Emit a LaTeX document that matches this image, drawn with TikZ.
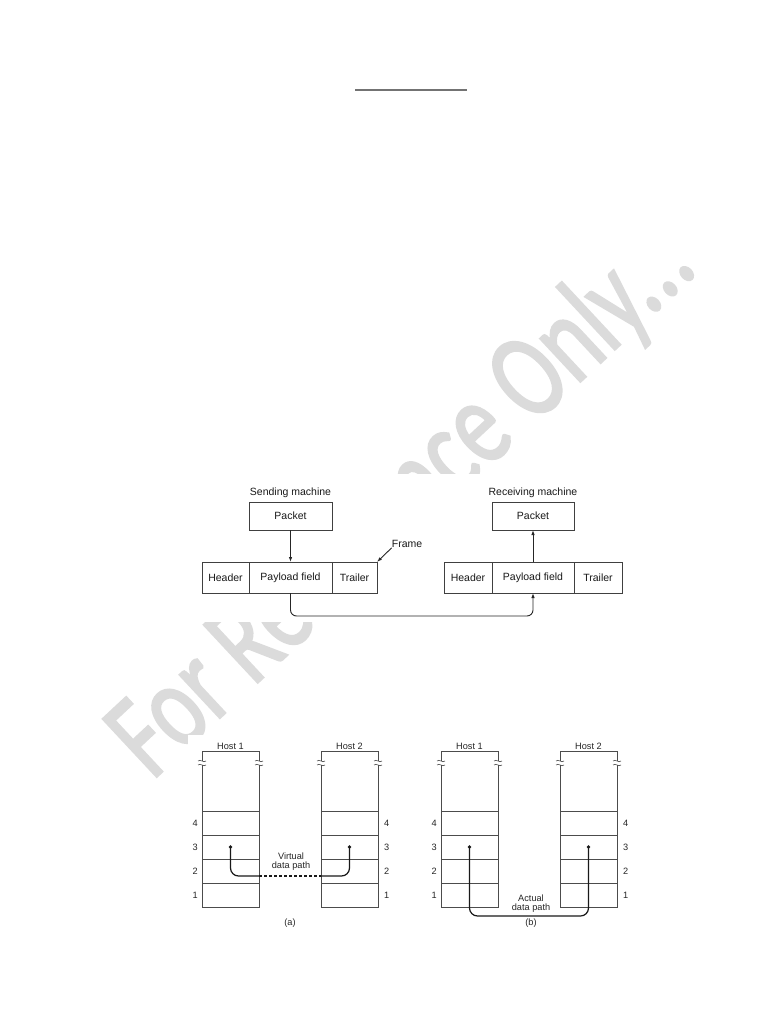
\documentclass[tikz,border=0pt]{standalone}
\usepackage{fontspec}
\setmainfont{Liberation Sans}
\newfontfamily\wmfont[FakeBold=2]{Carlito}
\usetikzlibrary{positioning}
\usetikzlibrary{arrows.meta}

\begin{document}
\begin{tikzpicture}[x=1pt,y=-1pt,
  box/.style={draw=black!75,line width=0.7pt,minimum height=28pt,inner sep=0pt,outer sep=0pt,text=black!90,font=\fontsize{10.5}{12}\selectfont},
  field/.style={box,minimum height=31pt},
  lbl/.style={inner sep=0pt,text=black!90,font=\fontsize{10.5}{12}\selectfont},
  hostlbl/.style={inner sep=0pt,text=black!85,font=\fontsize{9.2}{9.6}\selectfont},
  layerbox/.style={draw=black!70,line width=0.6pt,minimum width=57pt,minimum height=24pt,inner sep=0pt,outer sep=0pt},
  colline/.style={draw=black!70,line width=0.6pt},
  arr/.style={-{Latex[length=5pt,width=3.5pt]},line width=0.9pt,black!85},
  conn/.style={line width=1.2pt,black!90}]
  \fill[white] (0,0) rectangle (768,1024);
  \useasboundingbox (0,0) rectangle (768,1024);
  \draw[black!55,line width=2pt] (355,90) -- (467,90);
  \node[rotate=43,anchor=base west,inner sep=0pt,text=black!14] (wm) at (152,781)
    {\scalebox{1}[1.38]{\wmfont\fontsize{89}{89}\selectfont For Reference Only...}};
  \fill[white] (195,474) rectangle (632,622);
  \fill[white] (188,735) rectangle (642,935);

  \node[box,minimum width=83pt] (sendpkt) at (290.5,516) {Packet};
  \node[lbl,above=4.5pt of sendpkt] (sendlbl) {Sending machine};
  \node[field,minimum width=47pt] (shead) at (225.5,577.5) {Header};
  \node[field,minimum width=83pt,right=0pt of shead] (spay) {Payload field};
  \node[field,minimum width=45pt,right=0pt of spay] (strail) {Trailer};
  \node[box,minimum width=82pt] (recvpkt) at (533,516) {Packet};
  \node[lbl,above=4.5pt of recvpkt] (recvlbl) {Receiving machine};
  \node[field,minimum width=48pt] (rhead) at (468,577.5) {Header};
  \node[field,minimum width=82pt,right=0pt of rhead] (rpay) {Payload field};
  \node[field,minimum width=48pt,right=0pt of rpay] (rtrail) {Trailer};
  \node[lbl] (framelbl) at (407,544) {Frame};
  \coordinate (flow) at (0,616);
  \draw[arr] (sendpkt) -- (spay);
  \draw[arr] (rpay) -- (recvpkt);
  \draw[arr] (framelbl.south west) -- (strail.north east);
  \draw[arr,rounded corners=6pt] (spay.south) |- (flow -| rpay.south) -- (rpay.south);

  \foreach \col/\cx/\hname in {a1/230.5/Host 1,a2/349.5/Host 2,b1/469.5/Host 1,b2/588.5/Host 2} {
    \foreach \lay/\cy in {4/823,3/847,2/871,1/895}
      \node[layerbox] (\col-\lay) at (\cx,\cy) {};
    \node[hostlbl] (\col-host) at (\cx,746) {\hname};
    \draw[colline] (\cx-28.5,811) -- (\cx-28.5,765);
    \draw[colline] (\cx-28.5,761) -- (\cx-28.5,751) -- (\cx+28.5,751) -- (\cx+28.5,761);
    \draw[colline] (\cx+28.5,765) -- (\cx+28.5,811);
    \foreach \sx in {-1,1}
      \foreach \sy in {761,765}
        \draw[colline] (\cx+\sx*28.5-4,\sy) .. controls (\cx+\sx*28.5-1.5,\sy-2.5) and (\cx+\sx*28.5+1.5,\sy+2.5) .. (\cx+\sx*28.5+4,\sy);
  }
  \foreach \lay in {1,...,4} {
    \node[hostlbl,left=4pt of a1-\lay] (na1-\lay) {\lay};
    \node[hostlbl,right=6pt of a2-\lay] (na2-\lay) {\lay};
    \node[hostlbl,left=4pt of b1-\lay] (nb1-\lay) {\lay};
    \node[hostlbl,right=6pt of b2-\lay] (nb2-\lay) {\lay};
  }
  \foreach \col in {a1,a2,b1,b2}
    \fill[black!90] (\col-3) circle (1.8pt);

  \coordinate (vlow) at (0,876);
  \coordinate (alow) at (0,916);
  \draw[conn,rounded corners=8pt] (a1-3.center) |- (a1-2.east |- vlow);
  \draw[conn,dash pattern=on 3pt off 2pt] (a1-2.east |- vlow) -- (a2-2.west |- vlow);
  \draw[conn,rounded corners=8pt] (a2-2.west |- vlow) -| (a2-3.center);
  \node[hostlbl,align=center] (vpath) at (291,861.5) {Virtual\\data path};
  \draw[conn,rounded corners=8pt] (b1-3.center) |- (alow -| b2-3.center) -- (b2-3.center);
  \node[hostlbl,align=center] (apath) at (531,903.5) {Actual\\data path};
  \node[hostlbl] (capa) at (290,923) {(a)};
  \node[hostlbl] (capb) at (531,923) {(b)};
\end{tikzpicture}
\end{document}
